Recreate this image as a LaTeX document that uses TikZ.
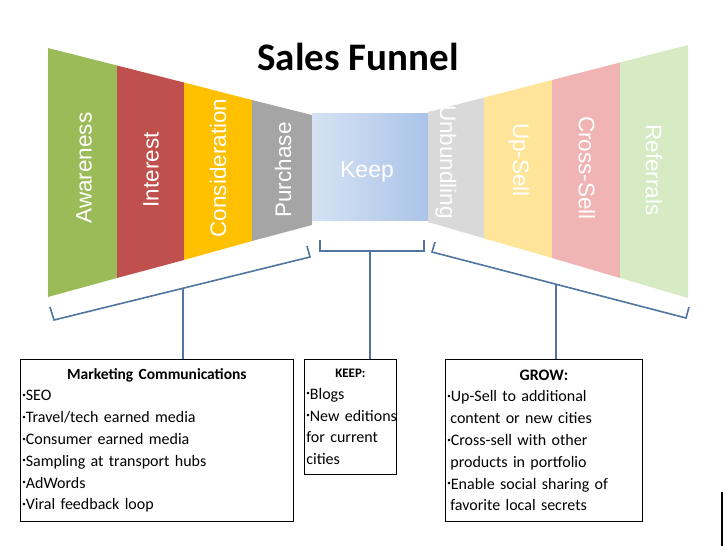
\documentclass[tikz,border=0pt]{standalone}
\usepackage{fontspec}
\setmainfont{Carlito}
\newfontfamily\arialf{Liberation Sans}
\newcommand{\bu}{\raisebox{0.45ex}{\fontsize{7}{7}\selectfont•}}
\begin{document}
\begin{tikzpicture}[x=1pt,y=-1pt,
  lab/.style={text=white,rotate=90,font=\arialf\fontsize{22.5}{22.5}\selectfont},
  brk/.style={line width=1.6pt,color={rgb,255:red,79;green,117;blue,160}},
  tbox/.style={draw=black,line width=0.8pt,anchor=north west,align=left,inner sep=2pt,font=\fontsize{16}{21.8}\selectfont}]
\useasboundingbox (0,0) rectangle (728,546);
\definecolor{cA}{RGB}{155,187,89}
\definecolor{cI}{RGB}{192,80,77}
\definecolor{cC}{RGB}{255,192,0}
\definecolor{cP}{RGB}{165,165,165}
\definecolor{cU}{RGB}{217,217,217}
\definecolor{cS}{RGB}{255,229,153}
\definecolor{cX}{RGB}{240,180,180}
\definecolor{cR}{RGB}{214,234,196}
\definecolor{kL}{RGB}{214,226,243}
\definecolor{kR}{RGB}{170,196,232}
\fill[cA] (48,48)--(117,65.5)--(117,278)--(48,297)--cycle;
\fill[cI] (117,65.5)--(184,82.5)--(184,260)--(117,278)--cycle;
\fill[cC] (184,82.5)--(252,100)--(252,241)--(184,260)--cycle;
\fill[cP] (252,100)--(312,115)--(312,225)--(252,241)--cycle;
\shade[left color=kL,right color=kR] (312,113) rectangle (428,220);
\fill[cU] (428,112)--(484,97.6)--(484,238.4)--(428,222)--cycle;
\fill[cS] (484,97.6)--(552,80)--(552,258)--(484,238.4)--cycle;
\fill[cX] (552,80)--(620,62.5)--(620,278)--(552,258)--cycle;
\fill[cR] (620,62.5)--(688,45)--(688,298)--(620,278)--cycle;
\node[lab] (lA) at (84,168) {Awareness};
\node[lab] (lI) at (151,170) {Interest};
\node[lab] (lC) at (218,168) {Consideration};
\node[lab] (lP) at (283,170) {Purchase};
\node[text=white,font=\arialf\fontsize{23}{23}\selectfont] (lK) at (367,172) {Keep};
\node[lab,rotate=180] (lU) at (446,162) {Unbundling};
\node[lab,rotate=180] (lS) at (519,160) {Up-Sell};
\node[lab,rotate=180] (lX) at (587,168) {Cross-Sell};
\node[lab,rotate=180] (lR) at (654,170) {Referrals};
\node[font=\bfseries\fontsize{39}{39}\selectfont] (title) at (358,57) {Sales Funnel};
\node[tbox,text width=269pt,minimum height=162pt] (bL) at (20,359) {%
\centering\textbf{\fontsize{15.5}{21.8}\selectfont Marketing Communications}\par\raggedright
\bu SEO\\\bu Travel/tech earned media\\\bu Consumer earned media\\\bu Sampling at transport hubs\\\bu AdWords\\\bu Viral feedback loop};
\node[tbox,text width=88pt,minimum height=115pt] (bK) at (304,359) {%
\centering\textbf{\fontsize{13}{21.8}\selectfont KEEP:}\par\raggedright
\bu Blogs\\\mbox{\bu New editions}\\for current\\cities};
\node[tbox,text width=193pt,minimum height=162pt] (bG) at (445,359) {%
\centering\textbf{GROW:}\par\raggedright
\bu Up-Sell to additional\\\hspace*{3pt}content or new cities\\\bu Cross-sell with other\\\hspace*{3pt}products in portfolio\\\bu Enable social sharing of\\\hspace*{3pt}favorite local secrets};
\coordinate (a1) at (50,307); \coordinate (a2) at (54,320);
\coordinate (a3) at (310,257); \coordinate (a4) at (307,246);
\coordinate (am) at (183,289);
\coordinate (b1) at (320,240); \coordinate (b2) at (320,251);
\coordinate (b3) at (424,251); \coordinate (b4) at (424,240);
\coordinate (bm) at (370,251);
\coordinate (c1) at (435,242); \coordinate (c2) at (432,252);
\coordinate (c3) at (686,318); \coordinate (c4) at (689,307);
\coordinate (cm) at (556,284);
\draw[brk] (a1)--(a2)--(a3)--(a4);
\draw[brk] (b1)--(b2)--(b3)--(b4);
\draw[brk] (c1)--(c2)--(c3)--(c4);
\draw[brk,line width=1.2pt] (am)--(am|-bL.north);
\draw[brk,line width=1.2pt] (bm)--(bm|-bK.north);
\draw[brk,line width=1.2pt] (cm)--(cm|-bG.north);
\coordinate (e1) at (722,492); \coordinate (e2) at (722,546);
\draw[line width=1.5pt] (e1)--(e2);
\end{tikzpicture}
\end{document}
